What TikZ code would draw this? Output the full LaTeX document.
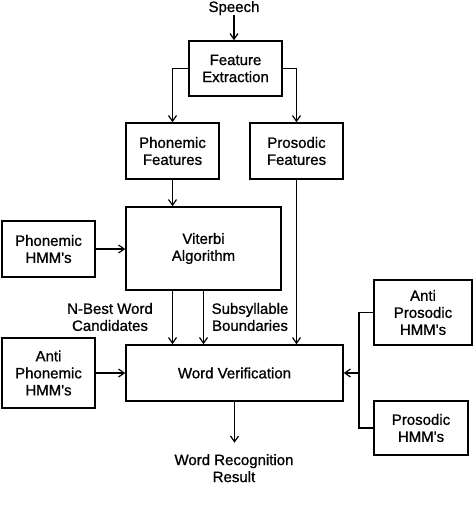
\documentclass[tikz,border=0pt]{standalone}
\usepackage{fontspec}
\setmainfont{Liberation Sans}[BoldFont={Liberation Sans},BoldFeatures={FakeBold=0.9}]
\usetikzlibrary{arrows.meta,calc}
\newcommand{\ap}{\textquotesingle}
\begin{document}
\begin{tikzpicture}[x=1pt,y=-1pt,
  every node/.style={font=\fontsize{15}{17}\selectfont\bfseries, align=center, inner sep=0pt},
  blk/.style={draw, line width=1.5pt, minimum width=#1},
  conn/.style={line width=1.5pt},
  arr/.style={line width=1.5pt, -{Straight Barb[length=2mm,width=2.8mm,line width=1.2pt]}}]
\useasboundingbox (0,0) rectangle (474,508);
\node[anchor=base] (sp) at (234,12) {Speech};
\node[blk=93pt, minimum height=55pt] (fe) at (235.5,68.5) {Feature\\Extraction};
\node[blk=93pt, minimum height=56pt] (pf) at (172.5,151) {Phonemic\\Features};
\node[blk=93pt, minimum height=56pt] (prf) at (296.5,151) {Prosodic\\Features};
\node[blk=155pt, minimum height=83pt] (vit) at (203.5,248.5) {Viterbi\\Algorithm};
\node[blk=93pt, minimum height=56pt] (phmm) at (48.5,249) {Phonemic\\HMM\ap s};
\node[blk=93pt, minimum height=70pt] (aphmm) at (48.5,373) {Anti\\Phonemic\\HMM\ap s};
\node[blk=217pt, minimum height=56pt] (wv) at (234.5,373) {Word Verification};
\node[blk=98pt, minimum height=65pt] (aprhmm) at (423,312.5) {Anti\\Prosodic\\HMM\ap s};
\node[blk=94pt, minimum height=54pt] (prhmm) at (421,428) {Prosodic\\HMM\ap s};
\node (nb) at (110,317) {N-Best Word\\Candidates};
\node (sb) at (250,317) {Subsyllable\\Boundaries};
\node[anchor=north] (out) at (234,454) {Word Recognition\\Result};
\coordinate (jx) at (359,373);
\draw[arr] (sp) -- (sp |- fe.north);
\draw[arr] (fe.west) -| (pf.north);
\draw[arr] (fe.east) -| (prf.north);
\draw[arr] (pf.south) -- (pf.south |- vit.north);
\draw[arr] (phmm.east) -- (phmm.east -| vit.west);
\draw[arr] (pf.south |- vit.south) -- (pf.south |- wv.north);
\draw[arr] (vit.south) -- (vit.south |- wv.north);
\draw[arr] (prf.south) -- (prf.south |- wv.north);
\draw[arr] (aphmm.east) -- (wv.west);
\draw[conn] (aprhmm.west) -| (jx) |- (prhmm.west);
\draw[arr] (jx) -- (wv.east);
\draw[arr] (wv.south) -- ($(wv.south)+(0,41)$) coordinate (oe);
\end{tikzpicture}
\end{document}
